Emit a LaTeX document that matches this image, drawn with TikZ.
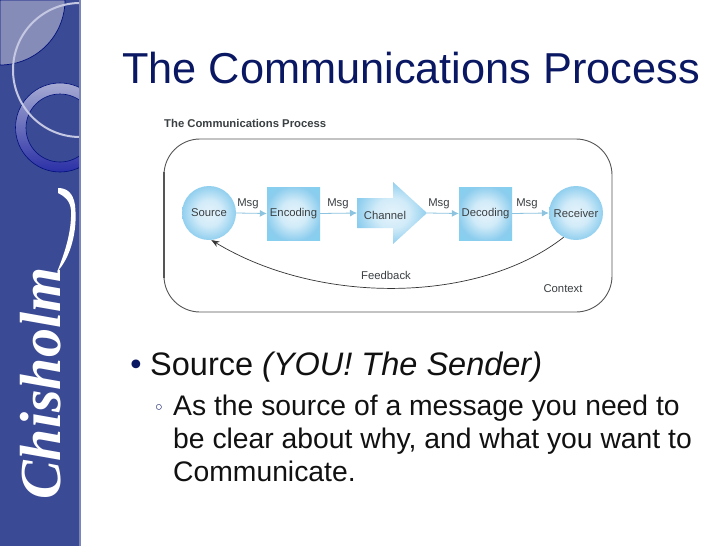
\documentclass[tikz,border=0pt]{standalone}
\usepackage{fontspec}
\setmainfont{Liberation Sans}
\newfontfamily\logofont{Liberation Serif}
\newfontfamily\bulletfont{DejaVu Sans}
\usetikzlibrary{arrows.meta}
\definecolor{sidebar}{HTML}{3B4A94}
\definecolor{sideedge}{HTML}{7C86B6}
\definecolor{lens}{HTML}{858CB8}
\definecolor{navy}{HTML}{0A1762}
\definecolor{inkline}{HTML}{00107A}
\definecolor{ringhi}{HTML}{A6ABD2}
\definecolor{ringlo}{HTML}{2A2FA6}
\definecolor{bigring}{HTML}{C5C8E2}
\definecolor{sky}{HTML}{8CCDEE}
\definecolor{skypale}{HTML}{E4F3FB}
\definecolor{flow}{HTML}{8CC4E0}
\definecolor{labelgrey}{HTML}{3A3F42}
\definecolor{frame}{HTML}{555555}
\definecolor{body}{HTML}{111111}
\pgfdeclareradialshading{softblue}{\pgfpoint{0bp}{0bp}}{color(0bp)=(skypale); color(12bp)=(skypale!80!sky); color(26bp)=(sky); color(50bp)=(sky!85!cyan)}
\tikzset{
  x=1pt,y=-1pt,
  blob/.style={circle,minimum size=54pt,inner sep=0pt,shading=softblue},
  codec/.style={minimum size=53pt,inner sep=0pt,shading=softblue},
  lbl/.style={font=\fontsize{11.3}{13}\selectfont,text=labelgrey,inner sep=0pt},
  flowline/.style={draw=flow,line width=.8pt,-{Latex[length=7pt,width=7pt,fill=flow]}},
  bodyline/.style={anchor=base west,inner sep=0pt,text=body,font=\fontsize{28.3}{33}\selectfont},
}
\begin{document}
\begin{tikzpicture}
\useasboundingbox (0,0) rectangle (728,546);
\fill[white] (0,0) rectangle (728,546);
% sidebar
\begin{scope}
\clip (0,0) rectangle (80,546);
\fill[sidebar] (0,0) rectangle (80,546);
\filldraw[fill=lens,draw=inkline,line width=.7pt] (0,0) -- (65,0) arc[start angle=0,end angle=90,radius=65] -- cycle;
\shade[top color=ringhi,bottom color=ringlo,even odd rule,draw=inkline,line width=.6pt]
  (60,127.5) circle[radius=44.5] (60,128) circle[radius=34];
\draw[bigring,line width=2pt] (80,70) circle[radius=67];
\end{scope}
\fill[sideedge] (79.2,0) rectangle (81,546);
% logo
\node[rotate=90,text=white,inner sep=0pt,anchor=base west,font=\logofont\bfseries\itshape\fontsize{58}{60}\selectfont] (logo) at (60,500) {Chisholm};
\fill[white] (58,188) .. controls (66,188) and (73,192) .. (75,205) .. controls (78,232) and (70,258) .. (57,272) .. controls (64,255) and (72,232) .. (71,210) .. controls (70,200) and (64,196) .. (58,193) -- cycle;
% title
\node[anchor=base west,inner sep=0pt,text=navy,font=\fontsize{43.3}{48}\selectfont] (title) at (122,83) {The Communications Process};
% diagram
\node[anchor=base west,inner sep=0pt,text=labelgrey,font=\bfseries\fontsize{11.3}{13}\selectfont] (heading) at (164,127) {The Communications Process};
\draw[frame,line width=.9pt,rounded corners=36pt] (164,139) rectangle (612,312);
\draw[frame,line width=1.5pt] (164,172) -- (164,278);
\node[blob] (source) at (209,213) {};
\node[codec] (encoding) at (293.5,213.5) {};
\path[shading=softblue] (357,198) -- (393,198) -- (393,182) -- (427,213) -- (393,244) -- (393,228) -- (357,228) -- cycle;
\coordinate (chanL) at (357,213);
\coordinate (chanR) at (427,213);
\node[codec] (decoding) at (485.5,213.5) {};
\node[blob] (receiver) at (576,213) {};
\draw[flowline] (source.east) -- (encoding.west);
\draw[flowline] (encoding.east) -- (chanL);
\draw[flowline] (chanR) -- (decoding.west);
\draw[flowline] (decoding.east) -- (receiver.west);
\node[lbl] at (source) {Source};
\node[lbl] at (encoding) {Encoding};
\node[lbl] at (385,215) {Channel};
\node[lbl] at (decoding) {Decoding};
\node[lbl] at (receiver) {Receiver};
\node[lbl] at (248,204) {Msg};
\node[lbl] at (338,204) {Msg};
\node[lbl] at (439,204) {Msg};
\node[lbl] at (527,204) {Msg};
\draw[black!80,line width=.7pt,-{Stealth[length=8pt,width=6pt]}] (receiver.-117) .. controls (480,303) and (320,306) .. (source.-85);
\node[lbl] at (386,275) {Feedback};
\node[lbl] at (563,289) {Context};
% bullets
\node[inner sep=0pt,text=navy,font=\bulletfont\fontsize{30}{32}\selectfont] (b1) at (136,368) {•};
\node[bodyline,font=\fontsize{32.5}{38}\selectfont] (src) at (150,375) {Source \textit{(YOU! The Sender)}};
\node[inner sep=0pt,text=navy,font=\bulletfont\fontsize{19}{21}\selectfont] (b2) at (159,410) {◦};
\node[bodyline] (l1) at (173,415) {As the source of a message you need to};
\node[bodyline] (l2) at (173,448) {be clear about why, and what you want to};
\node[bodyline] (l3) at (173,481) {Communicate.};
\end{tikzpicture}
\end{document}
